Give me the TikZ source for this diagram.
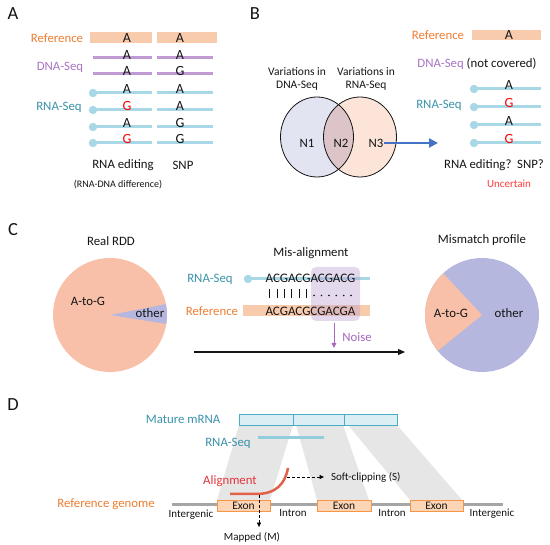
\documentclass[tikz,border=0pt]{standalone}
\usepackage{fontspec}
\setmainfont{Carlito}
\usetikzlibrary{arrows.meta}
\definecolor{refor}{HTML}{ED7D31}
\definecolor{refbarc}{HTML}{F8CBAD}
\definecolor{dnap}{HTML}{A874C4}
\definecolor{dnaline}{HTML}{C09AD2}
\definecolor{rnat}{HTML}{3A92AA}
\definecolor{rnaline}{HTML}{A8D8E6}
\definecolor{txt}{HTML}{141414}
\definecolor{vennL}{HTML}{E3E4F2}
\definecolor{vennR}{HTML}{FCE5D8}
\definecolor{vennM}{HTML}{DDC4C8}
\definecolor{arrblue}{HTML}{4472C4}
\definecolor{salmon}{HTML}{F8C0A8}
\definecolor{lav}{HTML}{B5B7DF}
\definecolor{hlc}{HTML}{B89ACD}
\definecolor{noisep}{HTML}{A566C0}
\definecolor{mrnaf}{HTML}{DAEEF3}
\definecolor{mrnab}{HTML}{4BACC6}
\definecolor{rsline}{HTML}{92CDDC}
\definecolor{band}{HTML}{E7E6E6}
\definecolor{genome}{HTML}{A6A6A6}
\definecolor{exonf}{HTML}{FBD5B5}
\definecolor{exonb}{HTML}{F79646}
\definecolor{alignc}{HTML}{E06048}
\definecolor{alignt}{HTML}{E3343C}
\definecolor{uncert}{HTML}{FF3B3B}
\begin{document}
\begin{tikzpicture}[x=1pt,y=-1pt,
  every node/.style={inner sep=0pt,outer sep=0pt,text=txt},
  panel/.style={font=\fontsize{18.5}{20}\selectfont},
  lbl/.style={font=\fontsize{12.8}{15}\selectfont},
  small/.style={font=\fontsize{11}{13}\selectfont},
  tiny/.style={font=\fontsize{10}{12}\selectfont},
  seqch/.style={font=\fontsize{14}{15}\selectfont},
  dnaread/.style={draw=dnaline,line width=3pt},
  rnaread/.style={draw=rnaline,line width=3pt},
  refbar/.style={fill=refbarc},
  exonbox/.style={draw=exonb,fill=exonf,line width=0.9pt,minimum height=11pt,font=\fontsize{11.5}{13}\selectfont},
  dasharrow/.style={draw=black,line width=0.8pt,dash pattern=on 3pt off 2pt,-{Triangle[length=4.5pt,width=4pt]}}
]
\useasboundingbox (0,0) rectangle (550,545);

% ================= Panel A =================
\node[panel] (pA) at (13,14) {A};
\node[lbl,text=refor] (refA) at (57,38) {Reference};
\fill[refbar] (90,32.5) rectangle (152,43);
\fill[refbar] (157,32.5) rectangle (217,43);
\node[seqch] (ra1) at (127,38) {A};
\node[seqch] (ra2) at (180,38) {A};
\node[lbl,text=dnap] (dnaA) at (60,67) {DNA-Seq};
\foreach \y in {58,74}{
  \draw[dnaread] (93,\y) -- (152,\y);
  \draw[dnaread] (157,\y) -- (213,\y);
}
\node[seqch] (da1) at (127,55) {A};
\node[seqch] (da2) at (127,71) {A};
\node[seqch] (db1) at (180,55) {A};
\node[seqch] (db2) at (180,71) {G};
\node[lbl,text=rnat] (rnaA) at (59,107) {RNA-Seq};
\foreach \y in {93,110,127,143}{
  \fill[rnaline] (93,\y) circle (4.2);
  \draw[rnaread] (93,\y) -- (152,\y);
  \draw[rnaread] (157,\y) -- (213,\y);
}
\node[seqch] (xa1) at (127,89.5) {A};
\node[seqch,text=red] (xa2) at (127,106.5) {G};
\node[seqch] (xa3) at (127,123.5) {A};
\node[seqch,text=red] (xa4) at (127,139.5) {G};
\node[seqch] (xb1) at (180,89.5) {A};
\node[seqch] (xb2) at (180,106.5) {A};
\node[seqch] (xb3) at (180,123.5) {G};
\node[seqch] (xb4) at (180,139.5) {G};
\node[lbl] (edA) at (123,165) {RNA editing};
\node[lbl] (snpA) at (183,165) {SNP};
\node[tiny] (diffA) at (118,185) {(RNA-DNA difference)};

% ================= Panel B =================
\node[panel] (pB) at (255,14) {B};
\node[lbl,text=refor] (refB) at (438,35) {Reference};
\fill[refbar] (472,30) rectangle (541,40.5);
\node[seqch] (rbA) at (509,35) {A};
\node[lbl] (dnaB) at (477,64) {\textcolor{dnap}{DNA-Seq} (not covered)};
\node[small,align=center,font=\fontsize{11.5}{13}\selectfont] (varD) at (297,78.5) {Variations in\\DNA-Seq};
\node[small,align=center,font=\fontsize{11.5}{13}\selectfont] (varR) at (366,78.5) {Variations in\\RNA-Seq};
\fill[vennL] (317,137) ellipse [x radius=36.5, y radius=40];
\fill[vennR] (360,137) ellipse [x radius=36.5, y radius=40];
\begin{scope}
  \clip (317,137) ellipse [x radius=36.5, y radius=40];
  \fill[vennM] (360,137) ellipse [x radius=36.5, y radius=40];
\end{scope}
\draw[txt,line width=0.8pt] (317,137) ellipse [x radius=36.5, y radius=40];
\draw[txt,line width=0.8pt] (360,137) ellipse [x radius=36.5, y radius=40];
\node[lbl] (n1) at (307,143) {N1};
\node[lbl] (n2) at (341,143) {N2};
\node[lbl] (n3) at (376,143) {N3};
\coordinate (bArrEnd) at (438,143);
\draw[arrblue,line width=2.2pt,-{Triangle[length=9pt,width=9pt]}] ([xshift=1pt]n3.east) -- (bArrEnd);
\node[lbl,text=rnat] (rnaB) at (439,105) {RNA-Seq};
\foreach \y in {89,107,125,143}{
  \fill[rnaline] (474,\y) circle (4.2);
  \draw[rnaread] (474,\y) -- (541,\y);
}
\node[seqch] (yb1) at (509,85.5) {A};
\node[seqch,text=red] (yb2) at (509,103.5) {G};
\node[seqch] (yb3) at (509,121.5) {A};
\node[seqch,text=red] (yb4) at (509,139.5) {G};
\node[lbl] (qB) at (494,165) {RNA editing?\ \ SNP?};
\node[small,text=uncert] (unc) at (509,184) {Uncertain};

% ================= Panel C =================
\node[panel] (pC) at (13,230) {C};
\node[lbl] (realT) at (111,241) {Real RDD};
\fill[salmon] (110,315) circle (57);
\fill[lav] (110,315) -- ++(-11:57) arc[start angle=-11,end angle=9,radius=57] -- cycle;
\node[lbl] (atgL) at (88,301) {A-to-G};
\node[lbl] (othL) at (150,313) {other};

\node[lbl] (misT) at (311,253) {Mis-alignment};
\node[lbl,text=rnat] (rnaC) at (210,279) {RNA-Seq};
\fill[rnaline] (248,279) circle (4.2);
\draw[rnaread] (248,279) -- (370,279);
\fill[refbar] (243,305.5) rectangle (370,316);
\node[lbl,text=refor] (refC) at (212,311) {Reference};
\node[fill=hlc,fill opacity=0.38,rounded corners=5pt,minimum width=49pt,minimum height=54pt] (hl) at (335.5,294) {};
\node[seqch,font=\fontsize{13}{15}\selectfont] (seqR) at (310.5,278) {ACGACGACGACG};
\node[seqch,font=\fontsize{13}{15}\selectfont] (seqF) at (310.5,311) {ACGACGCGACGA};
\foreach \i in {0,...,5}{
  \draw[txt,line width=0.9pt] (269.7+7.4*\i,289) -- ++(0,9);
}
\foreach \i in {6,...,11}{
  \fill[txt] (269.7+7.4*\i,295.5) circle (0.9);
}
\coordinate (nzEnd) at (334,348);
\draw[noisep,line width=1pt,-{Triangle[length=5pt,width=4.5pt]}] (334,323) -- (nzEnd);
\node[lbl,text=noisep] (noise) at (357,337) {Noise};
\coordinate (cArrS) at (194,352);
\coordinate (cArrE) at (405,352);
\draw[txt,line width=1.1pt,-{Triangle[length=7pt,width=6pt]}] (cArrS) -- (cArrE);

\node[lbl] (mmT) at (482,240) {Mismatch profile};
\fill[lav] (482,315) circle (57);
\fill[salmon] (482,315) -- ++(141:57) arc[start angle=141,end angle=227,radius=57] -- cycle;
\node[lbl] (atgR) at (451,313) {A-to-G};
\node[lbl] (othR) at (509,313) {other};

% ================= Panel D =================
\node[panel] (pD) at (13,405) {D};
\fill[band] (239,425) -- (293,425) -- (270,500) -- (217,500) -- cycle;
\fill[band] (296,425) -- (343,425) -- (369,500) -- (317,500) -- cycle;
\fill[band] (348,425) -- (397,425) -- (462,500) -- (410,500) -- cycle;
\node[lbl,text=rnat] (mrnaT) at (183,419) {Mature mRNA};
\draw[mrnab,fill=mrnaf,line width=0.9pt] (239,414) rectangle (397,425);
\draw[mrnab,line width=0.9pt] (293,414) -- (293,425);
\draw[mrnab,line width=0.9pt] (344,414) -- (344,425);
\node[lbl,text=rnat] (rnaD) at (228,443) {RNA-Seq};
\draw[rsline,line width=3pt] (258,438) -- (324,438);
\draw[genome,line width=3pt] (172,505) -- (503,505);
\node[exonbox,minimum width=53pt] (ex1) at (243.5,505.5) {Exon};
\node[exonbox,minimum width=54pt] (ex2) at (344,505.5) {Exon};
\node[exonbox,minimum width=53pt] (ex3) at (436.5,505.5) {Exon};
\node[lbl,text=refor] (refD) at (106,504) {Reference genome};
\node[small] (ig1) at (191,515) {Intergenic};
\node[small] (in1) at (293,513) {Intron};
\node[small] (in2) at (392,513) {Intron};
\node[small] (ig2) at (492,514) {Intergenic};
\draw[alignc,line width=2.5pt] (230,494) -- (256,494) .. controls (276,494) and (285,484) .. (288,468);
\node[lbl,text=alignt] (alT) at (230,481) {Alignment};
\coordinate (mTop) at (259,495);
\node[small] (mapped) at (252,537) {Mapped (M)};
\draw[dasharrow] (mTop) -- ([yshift=5pt]mapped.north -| mTop);
\coordinate (sStart) at (287,477);
\node[small,anchor=west] (soft) at (331,477) {Soft-clipping (S)};
\draw[dasharrow] (sStart) -- ([xshift=-7pt]soft.west);
\end{tikzpicture}
\end{document}
